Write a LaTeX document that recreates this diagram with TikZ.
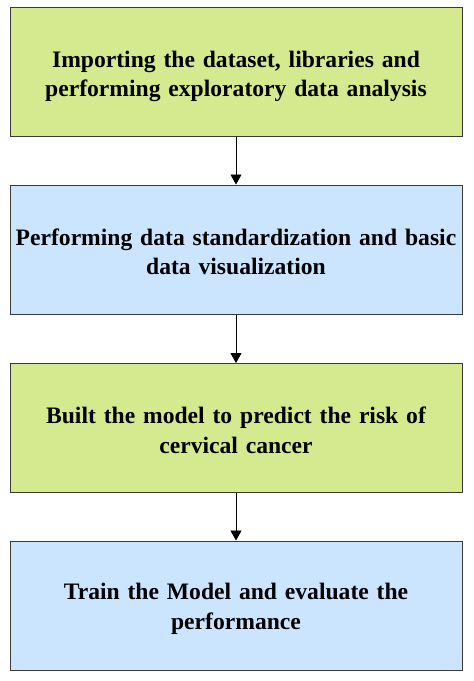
\documentclass[tikz,border=0pt]{standalone}
\usepackage{fontspec}
\setmainfont{Liberation Serif}
\usetikzlibrary{arrows.meta}
\definecolor{gfill}{HTML}{D5EA8E}
\definecolor{bfill}{HTML}{CCE5FF}
\definecolor{edge}{HTML}{3A3A3A}
\begin{document}
\begin{tikzpicture}[x=1pt,y=-1pt,
  stepbox/.style={draw=edge, line width=1pt, minimum width=452pt, minimum height=129pt, inner sep=0pt},
  gbox/.style={stepbox, fill=gfill},
  bbox/.style={stepbox, fill=bfill},
  steptext/.style={inner sep=0pt, align=center, text width=460pt, font=\bfseries\fontsize{23.6}{29.5}\selectfont},
  conn/.style={draw=black, line width=0.9pt, -{Triangle[width=11pt,length=10pt]}}]
\useasboundingbox (0,0) rectangle (474,681);
\node[gbox] (a) at (236,71.5) {};
\node[bbox] (b) at (236,249.5) {};
\node[gbox] (c) at (236,428) {};
\node[bbox] (d) at (236,605.5) {};
\node[steptext] (ta) at ([yshift=-5pt]a.center) {Importing the dataset, libraries and\\performing exploratory data analysis};
\node[steptext] (tb) at ([yshift=-2.5pt]b.center) {Performing data standardization and basic\\data visualization};
\node[steptext] (tc) at ([yshift=-2.5pt]c.center) {Built the model to predict the risk of\\cervical cancer};
\node[steptext] (td) at ([yshift=-3.5pt]d.center) {Train the Model and evaluate the\\performance};
\draw[conn] (a) -- (b);
\draw[conn] (b) -- (c);
\draw[conn] (c) -- (d);
\end{tikzpicture}
\end{document}
